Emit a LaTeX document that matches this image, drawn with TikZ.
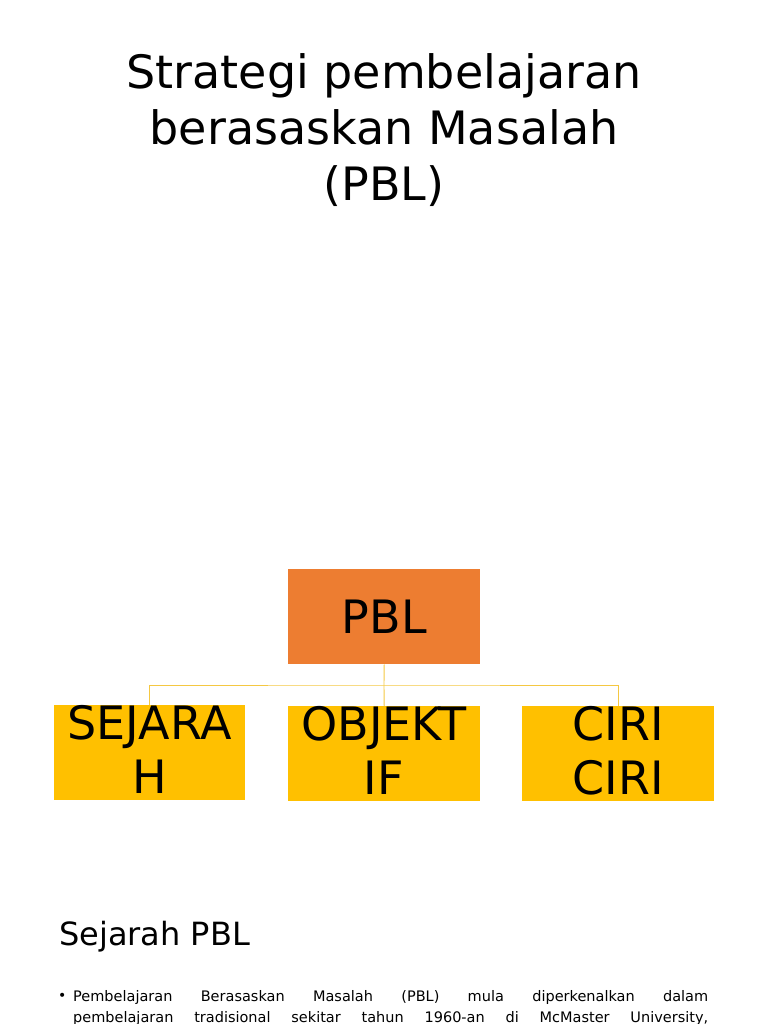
\documentclass[tikz,border=0pt]{standalone}
\usepackage{fontspec}
\setmainfont{DejaVu Sans}
\definecolor{orgbox}{HTML}{ED7D31}
\definecolor{goldbox}{HTML}{FFC000}
\definecolor{goldline}{HTML}{F5C842}
\begin{document}
\begin{tikzpicture}[x=1pt,y=-1pt,
  box/.style={inner sep=0pt,minimum width=192pt,minimum height=95pt},
  conn/.style={draw=goldline,line width=0.9pt}]
\useasboundingbox (0,0) rectangle (768,1024);
\node[font=\fontsize{46}{56}\selectfont,align=center,anchor=north] (title) at (384,50)
  {Strategi pembelajaran\\berasaskan Masalah\\(PBL)};
\node[box,fill=orgbox,anchor=north west,font=\fontsize{46}{56}\selectfont] (pbl) at (288,569) {PBL};
\node[box,fill=goldbox,anchor=north west,minimum width=191pt] (sej) at (54,705) {};
\node[box,fill=goldbox,anchor=north west] (obj) at (288,706) {};
\node[box,fill=goldbox,anchor=north west] (ciri) at (522,706) {};
\begin{scope}
\clip (0,700) rectangle (768,801);
\node[font=\fontsize{46}{54}\selectfont,align=center,anchor=north] (sejt) at (149.5,702) {SEJARA\\H};
\node[font=\fontsize{46}{54}\selectfont,align=center,anchor=north] (objt) at (384,703) {OBJEKT\\IF};
\node[font=\fontsize{46}{54}\selectfont,align=center,anchor=north] (cirit) at (618,703) {CIRI\\CIRI};
\end{scope}
\coordinate (j) at (384,685);
\draw[conn] (pbl.south) -- (j) -- (obj.north);
\draw[conn] (sej.north) |- (j) -| (ciri.north);
\node[anchor=base west,font=\fontsize{32}{38}\selectfont,inner sep=0pt] (h) at (59,945) {Sejarah PBL};
\node[anchor=base west,font=\fontsize{14}{20}\selectfont,inner sep=0pt] (b) at (58,1000) {•};
\node[anchor=base west,font=\fontsize{14.5}{20}\selectfont,inner sep=0pt] (l1) at (73,1001)
  {\makebox[635pt][s]{Pembelajaran Berasaskan Masalah (PBL) mula diperkenalkan dalam}};
\node[anchor=base west,font=\fontsize{14.5}{20}\selectfont,inner sep=0pt] (l2) at (73,1022)
  {\makebox[635pt][s]{pembelajaran tradisional sekitar tahun 1960-an di McMaster University,}};
\end{tikzpicture}
\end{document}
